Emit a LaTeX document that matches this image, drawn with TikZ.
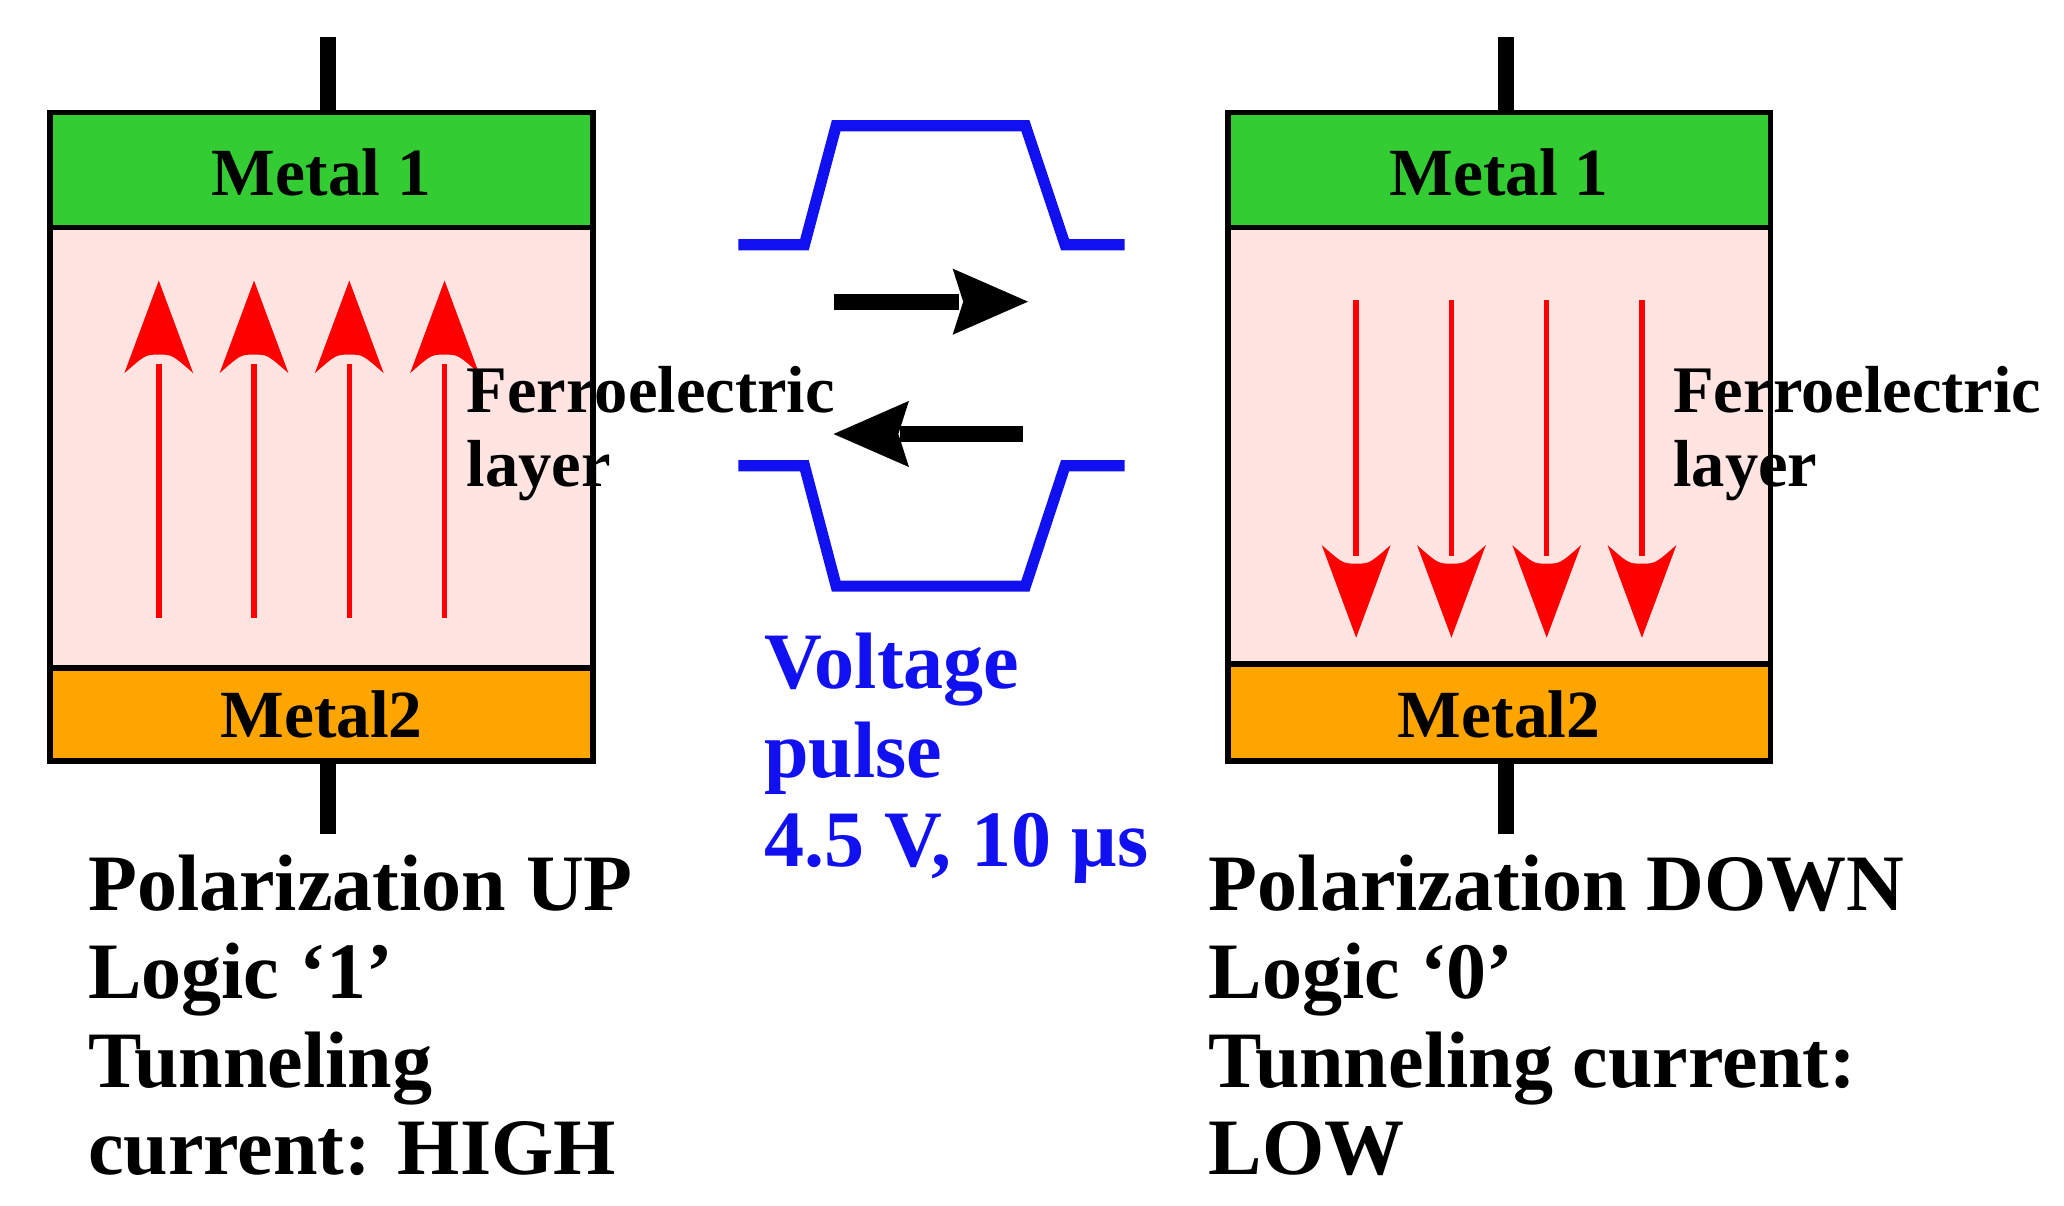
\documentclass[tikz,border=0pt]{standalone}
\usepackage{fontspec}
\setmainfont{Liberation Serif}
\begin{document}
\begin{tikzpicture}[x=0.01cm,y=-0.01cm,
  box/.style={draw=black,line width=1.2pt},
  wire/.style={line width=3.4pt},
  lbl/.style={font=\bfseries\fontsize{14.5}{18}\selectfont,inner sep=0},
  fe/.style={font=\bfseries\fontsize{14.3}{15.9}\selectfont,anchor=base west,inner sep=0,align=left},
  big/.style={font=\bfseries\fontsize{17.2}{19}\selectfont,anchor=base west,inner sep=0},
  pulse/.style={draw={rgb,255:red,16;green,16;blue,240},line width=2.4pt},
  redarrow/.style={draw=red,line width=1.2pt}]
\definecolor{mgreen}{HTML}{33CC33}
\definecolor{morange}{HTML}{FFA500}
\definecolor{mpink}{HTML}{FFE4E1}
\definecolor{mblue}{HTML}{1010F0}
\useasboundingbox (0,0) rectangle (1560,911);
% left cell
\draw[wire] (248,28) -- (248,85);
\draw[wire] (248,575) -- (248,630);
\filldraw[box,fill=mgreen] (38,85) rectangle (448,172);
\filldraw[box,fill=mpink] (38,172) rectangle (448,505);
\filldraw[box,fill=morange] (38,505) rectangle (448,575);
\node[lbl] (m1a) at (243,130) {Metal 1};
\node[lbl] (m2a) at (243,540) {Metal2};
\foreach \x in {120,192,264,336}{
  \draw[redarrow] (\x,467) -- (\x,275);
  \fill[red] (\x,212) -- (\x+26,282) .. controls (\x+10,268) .. (\x,268) .. controls (\x-10,268) .. (\x-26,282) -- cycle;
}
\node[fe] (fea) at (352,368) {Ferroelectric\\layer};
% right cell
\draw[wire] (1138,28) -- (1138,85);
\draw[wire] (1138,575) -- (1138,630);
\filldraw[box,fill=mgreen] (928,85) rectangle (1338,172);
\filldraw[box,fill=mpink] (928,172) rectangle (1338,502);
\filldraw[box,fill=morange] (928,502) rectangle (1338,575);
\node[lbl] (m1b) at (1133,130) {Metal 1};
\node[lbl] (m2b) at (1133,540) {Metal2};
\foreach \x in {1025,1097,1169,1241}{
  \draw[redarrow] (\x,227) -- (\x,420);
  \fill[red] (\x,482) -- (\x+26,412) .. controls (\x+10,426) .. (\x,426) .. controls (\x-10,426) .. (\x-26,412) -- cycle;
}
\node[fe] (feb) at (1264,368) {Ferroelectric\\layer};
% pulses
\draw[pulse] (558,185) -- (608,185) -- (632,95) -- (775,95) -- (805,185) -- (850,185);
\draw[pulse] (558,352) -- (608,352) -- (632,443) -- (775,443) -- (805,352) -- (850,352);
\draw[line width=3.4pt] (630,228) -- (725,228);
\fill (777,228) -- (720,203) -- (728,228) -- (720,253) -- cycle;
\draw[line width=3.4pt] (773,328) -- (680,328);
\fill (630,328) -- (687,303) -- (679,328) -- (687,353) -- cycle;
\node[big,text=mblue] (vp1) at (577,520) {Voltage};
\node[big,text=mblue] (vp2) at (577,588) {pulse};
\node[big,text=mblue] (vp3) at (577,655) {4.5 V, 10 μs};
% captions
\node[big] (la1) at (66,688) {Polarization UP};
\node[big] (la2) at (66,755) {Logic ‘1’};
\node[big] (la3) at (66,822) {Tunneling};
\node[big] (la4) at (66,888) {current: HIGH};
\node[big] (lb1) at (913,688) {Polarization DOWN};
\node[big] (lb2) at (913,755) {Logic ‘0’};
\node[big] (lb3) at (913,822) {Tunneling current:};
\node[big] (lb4) at (913,888) {LOW};
\end{tikzpicture}
\end{document}
